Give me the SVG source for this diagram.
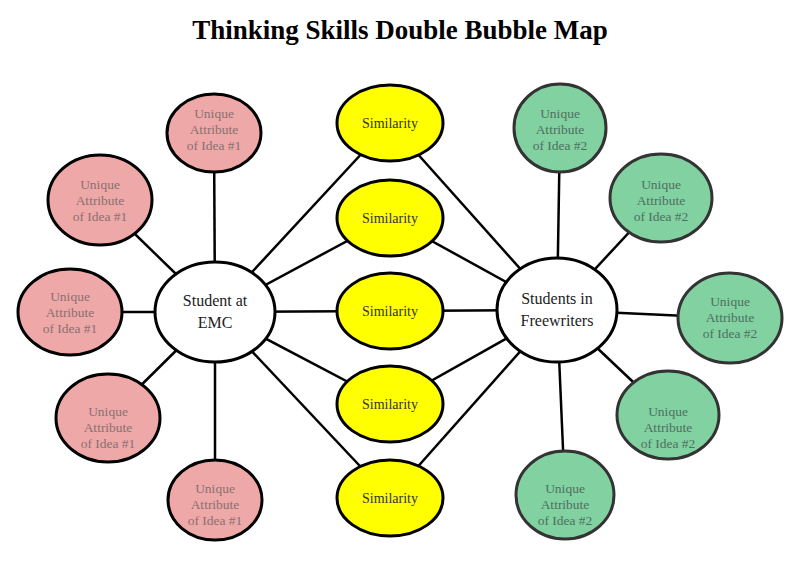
<svg xmlns="http://www.w3.org/2000/svg" width="800" height="569" viewBox="0 0 800 569">
<style>
text{font-family:"Liberation Serif","Times New Roman",serif;text-anchor:middle}
.title{font-size:27px;font-weight:bold;fill:#000}
.c{fill:#fff;stroke:#000;stroke-width:3}
.p{fill:#eea8a8;stroke:#000;stroke-width:3}
.g{fill:#82d1a1;stroke:#333;stroke-width:3}
.y{fill:#ffff00;stroke:#000;stroke-width:3}
.pt{font-size:13.5px;fill:#8a7070}
.gt{font-size:13.5px;fill:#4d7060}
.ct{font-size:16px;fill:#222}
.yt{font-size:14px;fill:#333}
#connectors line{stroke:#000;stroke-width:2.5}
</style>
<rect width="800" height="569" fill="#fff"/>
<text class="title" x="400" y="39">Thinking Skills Double Bubble Map</text>
<g id="connectors">
<line x1="215" y1="312" x2="214" y2="133"/>
<line x1="215" y1="312" x2="100" y2="200"/>
<line x1="215" y1="312" x2="70" y2="312"/>
<line x1="215" y1="312" x2="108" y2="418"/>
<line x1="215" y1="312" x2="215" y2="500"/>
<line x1="557" y1="310" x2="560" y2="128"/>
<line x1="557" y1="310" x2="661" y2="198"/>
<line x1="557" y1="310" x2="730" y2="318"/>
<line x1="557" y1="310" x2="668" y2="415"/>
<line x1="557" y1="310" x2="565" y2="495"/>
<line x1="215" y1="312" x2="390" y2="123"/>
<line x1="215" y1="312" x2="390" y2="218"/>
<line x1="215" y1="312" x2="390" y2="311"/>
<line x1="215" y1="312" x2="390" y2="404"/>
<line x1="215" y1="312" x2="390" y2="498"/>
<line x1="557" y1="310" x2="390" y2="123"/>
<line x1="557" y1="310" x2="390" y2="218"/>
<line x1="557" y1="310" x2="390" y2="311"/>
<line x1="557" y1="310" x2="390" y2="404"/>
<line x1="557" y1="310" x2="390" y2="498"/>
</g>
<g id="left-center"><ellipse class="c" cx="215" cy="312" rx="60" ry="50"/><text class="ct" x="215" y="306">Student at</text><text class="ct" x="215" y="328">EMC</text></g>
<g id="right-center"><ellipse class="c" cx="557" cy="310" rx="60" ry="52"/><text class="ct" x="557" y="304">Students in</text><text class="ct" x="557" y="326">Freewriters</text></g>
<g id="sim1"><ellipse class="y" cx="390" cy="123" rx="53" ry="38"/><text class="yt" x="390" y="128">Similarity</text></g>
<g id="sim2"><ellipse class="y" cx="390" cy="218" rx="53" ry="38"/><text class="yt" x="390" y="223">Similarity</text></g>
<g id="sim3"><ellipse class="y" cx="390" cy="311" rx="53" ry="38"/><text class="yt" x="390" y="316">Similarity</text></g>
<g id="sim4"><ellipse class="y" cx="390" cy="404" rx="53" ry="38"/><text class="yt" x="390" y="409">Similarity</text></g>
<g id="sim5"><ellipse class="y" cx="390" cy="498" rx="53" ry="38"/><text class="yt" x="390" y="503">Similarity</text></g>
<g id="p1"><ellipse class="p" cx="214" cy="133" rx="47" ry="39"/><text class="pt" x="214" y="118">Unique</text><text class="pt" x="214" y="134">Attribute</text><text class="pt" x="214" y="150">of Idea #1</text></g>
<g id="p2"><ellipse class="p" cx="100" cy="200" rx="52" ry="45"/><text class="pt" x="100" y="189">Unique</text><text class="pt" x="100" y="205">Attribute</text><text class="pt" x="100" y="221">of Idea #1</text></g>
<g id="p3"><ellipse class="p" cx="70" cy="312" rx="52" ry="43"/><text class="pt" x="70" y="301">Unique</text><text class="pt" x="70" y="317">Attribute</text><text class="pt" x="70" y="333">of Idea #1</text></g>
<g id="p4"><ellipse class="p" cx="108" cy="418" rx="52" ry="44"/><text class="pt" x="108" y="416">Unique</text><text class="pt" x="108" y="432">Attribute</text><text class="pt" x="108" y="448">of Idea #1</text></g>
<g id="p5"><ellipse class="p" cx="215" cy="500" rx="47" ry="40"/><text class="pt" x="215" y="493">Unique</text><text class="pt" x="215" y="509">Attribute</text><text class="pt" x="215" y="525">of Idea #1</text></g>
<g id="g1"><ellipse class="g" cx="560" cy="128" rx="46" ry="44"/><text class="gt" x="560" y="118">Unique</text><text class="gt" x="560" y="134">Attribute</text><text class="gt" x="560" y="150">of Idea #2</text></g>
<g id="g2"><ellipse class="g" cx="661" cy="198" rx="51" ry="44"/><text class="gt" x="661" y="189">Unique</text><text class="gt" x="661" y="205">Attribute</text><text class="gt" x="661" y="221">of Idea #2</text></g>
<g id="g3"><ellipse class="g" cx="730" cy="318" rx="52" ry="45"/><text class="gt" x="730" y="306">Unique</text><text class="gt" x="730" y="322">Attribute</text><text class="gt" x="730" y="338">of Idea #2</text></g>
<g id="g4"><ellipse class="g" cx="668" cy="415" rx="51" ry="44"/><text class="gt" x="668" y="416">Unique</text><text class="gt" x="668" y="432">Attribute</text><text class="gt" x="668" y="448">of Idea #2</text></g>
<g id="g5"><ellipse class="g" cx="565" cy="495" rx="49" ry="44"/><text class="gt" x="565" y="493">Unique</text><text class="gt" x="565" y="509">Attribute</text><text class="gt" x="565" y="525">of Idea #2</text></g>
</svg>
